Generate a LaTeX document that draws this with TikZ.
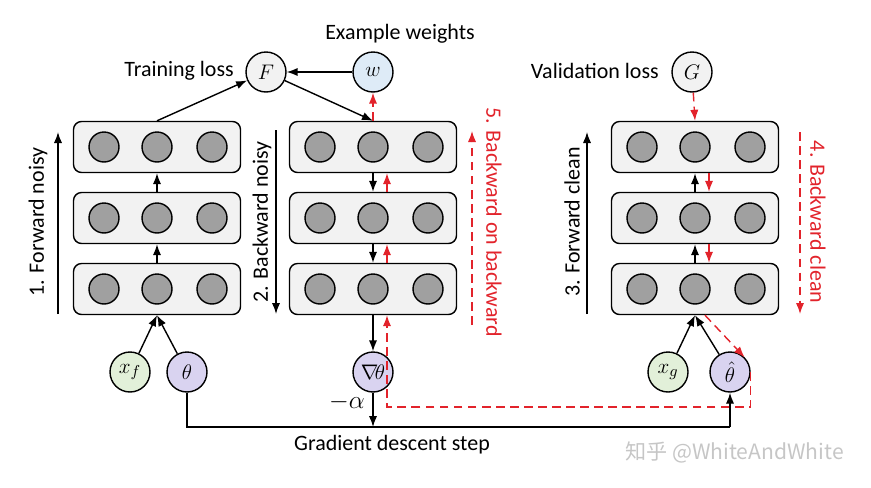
\documentclass[tikz,border=0pt]{standalone}
\usepackage{fontspec}
\setmainfont{Carlito}
\newfontfamily\cjk{Noto Sans CJK SC}
\usetikzlibrary{arrows.meta}
\definecolor{redpath}{HTML}{E2232B}
\definecolor{boxgray}{HTML}{F2F2F2}
\definecolor{unitgray}{HTML}{A0A0A0}
\definecolor{lossgray}{HTML}{F2F2F2}
\definecolor{wblue}{HTML}{DEEBF7}
\definecolor{xgreen}{HTML}{E2F0D9}
\definecolor{tpurple}{HTML}{D9D3F0}
\tikzset{
  layer/.style={draw, thick, rounded corners=0.16cm, fill=boxgray, minimum width=3.34cm, minimum height=1.02cm},
  unit/.style={draw, thick, circle, fill=unitgray, minimum size=0.6cm, inner sep=0pt},
  var/.style={draw, thick, circle, minimum size=0.8cm, inner sep=0pt, font=\fontsize{13}{16}\selectfont},
  fw/.style={-{Latex[length=2.2mm]}, thick},
  bw/.style={-{Latex[length=2.2mm]}, thick, redpath, dashed, dash pattern=on 5pt off 3pt},
  lbl/.style={font=\fontsize{12.5}{15}\selectfont}
}
\begin{document}
\begin{tikzpicture}[x=0.02cm, y=-0.02cm]
\useasboundingbox (0,0) rectangle (871,487);
%layers of the three networks
\foreach \c/\x in {1/157, 2/373, 3/695} {
  \foreach \l/\y in {1/147, 2/218, 3/289} {
    \node[layer] (b\c-\l) at (\x,\y) {};
    \node[unit] at (\x-53,\y) {};
    \node[unit] at (\x,\y) {};
    \node[unit] at (\x+55,\y) {};
  }
}
%losses and variables
\node[var, fill=lossgray] (F) at (266,72) {$F$};
\node[var, fill=wblue] (w) at (373,72) {$w$};
\node[var, fill=lossgray] (G) at (692,72) {$G$};
\node[var, fill=xgreen] (xf) at (130,372) {$x_f$};
\node[var, fill=tpurple] (th) at (187,372) {$\theta$};
\node[var, fill=tpurple] (gth) at (373,372) {$\nabla\!\theta$};
\node[var, fill=xgreen] (xg) at (668,372) {$x_g$};
\node[var, fill=tpurple] (thh) at (730,372) {$\hat\theta$};
\node[lbl, anchor=east] (tl) at (240,71) {Training loss};
\node[lbl] (ew) at (400,34) {Example weights};
\node[lbl, anchor=east] (vl) at (665,71) {Validation loss};
\node[lbl] (gd) at (392,445) {Gradient descent step};
\node[font=\fontsize{14}{17}\selectfont] (al) at (347,402) {$-\alpha$};
\node[font=\cjk\fontsize{12}{15}\selectfont, text=gray!45, anchor=east] (wm) at (850,452) {知乎 @WhiteAndWhite};
\coordinate (step) at (373,427);
\coordinate (turn) at (747,407);
\coordinate (up) at ([xshift=0.28cm]b2-3.south);
%forward noisy
\draw[fw] (xf) -- (b1-3.south);
\draw[fw] (th) -- (b1-3.south);
\draw[fw] (b1-3) -- (b1-2);
\draw[fw] (b1-2) -- (b1-1);
\draw[fw] (b1-1.north) -- (F);
\draw[fw] (w) -- (F);
%backward noisy
\draw[fw] (F) -- (b2-1.north);
\draw[fw] (b2-1) -- (b2-2);
\draw[fw] (b2-2) -- (b2-3);
\draw[fw] (b2-3) -- (gth);
\draw[fw] (gth) -- (step);
\draw[thick] (th) |- (step) -- (step -| thh.south);
\draw[fw] (step -| thh.south) -- (thh);
%forward clean
\draw[fw] (xg) -- (b3-3.south);
\draw[fw] (thh) -- (b3-3.south);
\draw[fw] (b3-3) -- (b3-2);
\draw[fw] (b3-2) -- (b3-1);
%backward clean
\draw[bw] (G) -- (b3-1.north);
\draw[bw] ([xshift=0.28cm]b3-1.south) -- ([xshift=0.28cm]b3-2.north);
\draw[bw] ([xshift=0.28cm]b3-2.south) -- ([xshift=0.28cm]b3-3.north);
\draw[bw] ([xshift=0.2cm]b3-3.south) -- (thh.north east);
%backward on backward
\draw[bw] (thh.east) |- (turn) -- (turn -| up) -- (up);
\draw[bw] ([xshift=0.28cm]b2-3.north) -- ([xshift=0.28cm]b2-2.south);
\draw[bw] ([xshift=0.28cm]b2-2.north) -- ([xshift=0.28cm]b2-1.south);
\draw[bw] (b2-1.north) -- (w);
%side arrows
\draw[fw] (58,314) -- (58,132);
\node[lbl, rotate=90] at (38,222) {1. Forward noisy};
\draw[fw] (276,130) -- (276,314);
\node[lbl, rotate=90] at (262,222) {2. Backward noisy};
\draw[bw] (472,325) -- (472,131);
\node[lbl, rotate=-90, text=redpath] at (494,222) {5. Backward on backward};
\draw[fw] (587,314) -- (587,132);
\node[lbl, rotate=90] at (572,222) {3. Forward clean};
\draw[bw] (800,132) -- (800,314);
\node[lbl, rotate=-90, text=redpath] at (818,222) {4. Backward clean};
\end{tikzpicture}
\end{document}
